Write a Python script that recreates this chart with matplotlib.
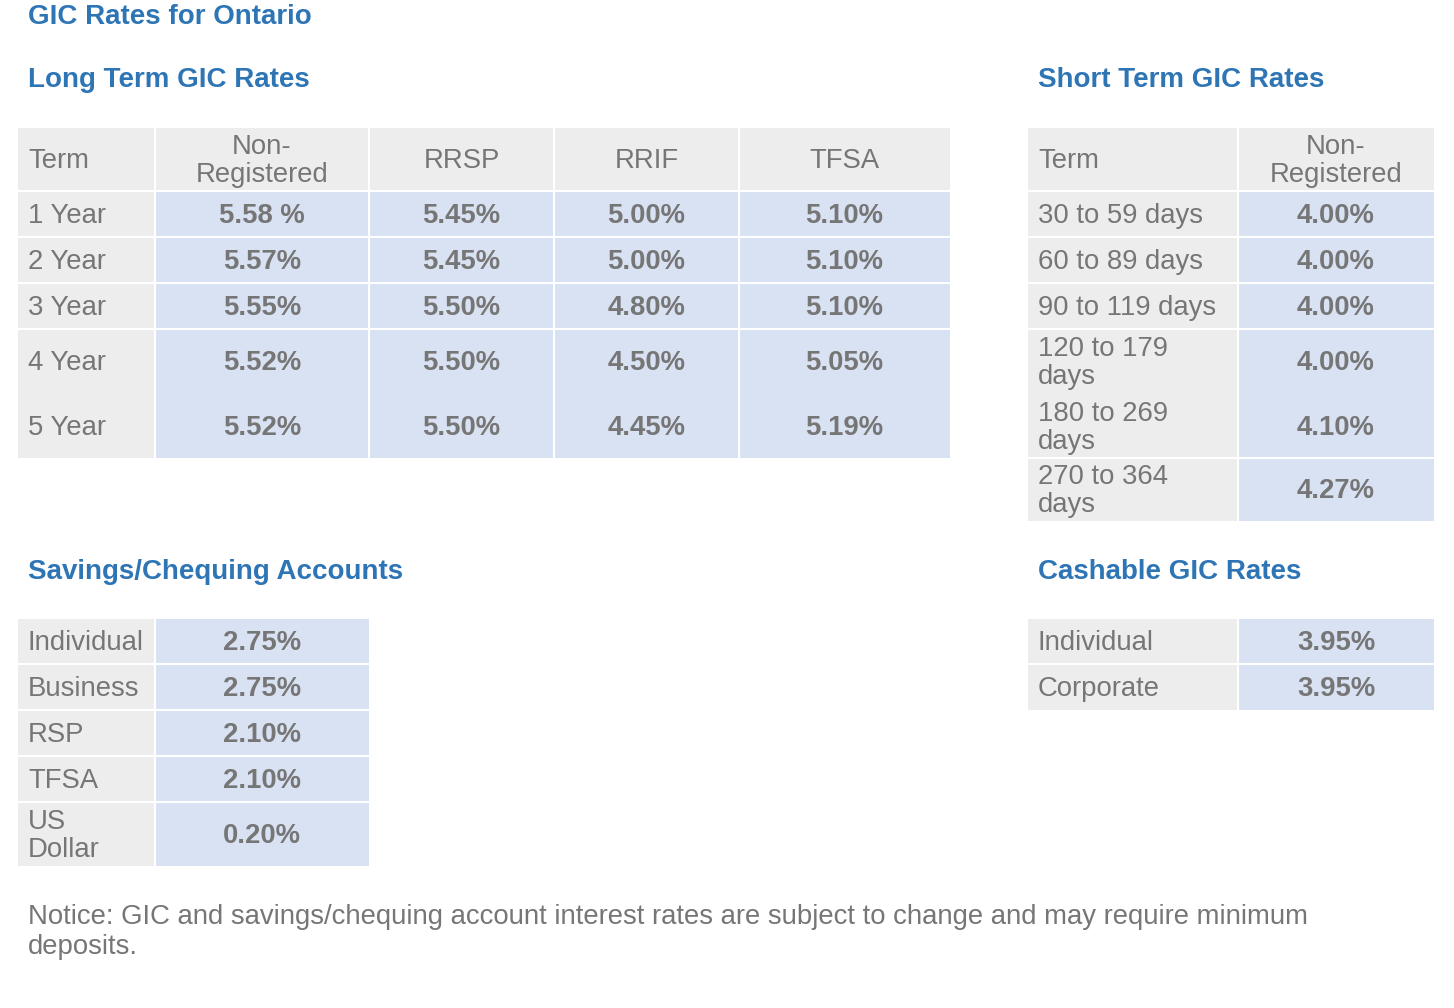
import matplotlib
matplotlib.use("Agg")
import matplotlib.pyplot as plt
from matplotlib.patches import Rectangle

plt.rcParams['font.family'] = ['Liberation Sans', 'DejaVu Sans']

long_cols = ["Term", "Non-\nRegistered", "RRSP", "RRIF", "TFSA"]
long_terms = ["1 Year", "2 Year", "3 Year", "4 Year", "5 Year"]
long_nonreg = ["5.58 %", "5.57%", "5.55%", "5.52%", "5.52%"]
long_rrsp = ["5.45%", "5.45%", "5.50%", "5.50%", "5.50%"]
long_rrif = ["5.00%", "5.00%", "4.80%", "4.50%", "4.45%"]
long_tfsa = ["5.10%", "5.10%", "5.10%", "5.05%", "5.19%"]

short_cols = ["Term", "Non-\nRegistered"]
short_terms = ["30 to 59 days", "60 to 89 days", "90 to 119 days",
               "120 to 179\ndays", "180 to 269\ndays", "270 to 364\ndays"]
short_rates = ["4.00%", "4.00%", "4.00%", "4.00%", "4.10%", "4.27%"]

sav_types = ["Individual", "Business", "RSP", "TFSA", "US\nDollar"]
sav_rates = ["2.75%", "2.75%", "2.10%", "2.10%", "0.20%"]

cash_types = ["Individual", "Corporate"]
cash_rates = ["3.95%", "3.95%"]

GRAY = "#ededed"
BLUE = "#d9e2f3"
TXT = "#767676"
TITLE = "#2e75b6"
FS = 19.8
TFS = 20
LS = 1.1

fig = plt.figure(figsize=(14.54, 10.08), dpi=100)
ax = fig.add_axes([0, 0, 1, 1])
ax.set_xlim(0, 1454)
ax.set_ylim(1008, 0)
ax.axis("off")


def draw_table(xs, ys, header, rows, no_line=()):
    r0 = 0
    if header is not None:
        for j, h in enumerate(header):
            ax.add_patch(Rectangle((xs[j], ys[0]), xs[j+1]-xs[j], ys[1]-ys[0], fc=GRAY, ec="none"))
            cy = (ys[0]+ys[1])/2 + 2
            if j == 0:
                ax.text(xs[j]+10, cy, h, ha="left", va="center", fontsize=FS, color=TXT, linespacing=LS)
            else:
                ax.text((xs[j]+xs[j+1])/2, cy, h, ha="center", va="center", fontsize=FS, color=TXT, linespacing=LS)
        r0 = 1
    for i, row in enumerate(rows):
        y0, y1 = ys[r0+i], ys[r0+i+1]
        cy = (y0+y1)/2 + 2
        for j, val in enumerate(row):
            fc = GRAY if j == 0 else BLUE
            ax.add_patch(Rectangle((xs[j], y0), xs[j+1]-xs[j], y1-y0, fc=fc, ec="none"))
            if j == 0:
                ax.text(xs[j]+10, cy, val, ha="left", va="center", fontsize=FS, color=TXT, linespacing=LS)
            else:
                ax.text((xs[j]+xs[j+1])/2, cy, val, ha="center", va="center", fontsize=FS, color=TXT, fontweight="bold")
    for x in xs[1:-1]:
        ax.plot([x, x], [ys[0], ys[-1]], color="white", lw=1.5)
    for k, y in enumerate(ys[1:-1], start=1):
        if k in no_line:
            continue
        ax.plot([xs[0], xs[-1]], [y, y], color="white", lw=1.5)


for x, y, s in [(28, 17, "GIC Rates for Ontario"), (28, 80, "Long Term GIC Rates"),
                (1038, 80, "Short Term GIC Rates"), (28, 572, "Savings/Chequing Accounts"),
                (1038, 572, "Cashable GIC Rates")]:
    ax.text(x, y, s, fontsize=TFS, color=TITLE, fontweight="bold", va="center")

draw_table([18, 155, 369, 554, 739, 950], [128, 191, 237, 283, 329, 394, 458],
           long_cols, list(zip(long_terms, long_nonreg, long_rrsp, long_rrif, long_tfsa)), no_line=(5,))
draw_table([1028, 1238, 1434], [128, 191, 237, 283, 329, 394, 458, 521],
           short_cols, list(zip(short_terms, short_rates)), no_line=(5,))
draw_table([18, 155, 369], [619, 664, 710, 756, 802, 866],
           None, list(zip(sav_types, sav_rates)))
draw_table([1028, 1238, 1434], [619, 664, 710],
           None, list(zip(cash_types, cash_rates)))

ax.text(28, 932, "Notice: GIC and savings/chequing account interest rates are subject to change and may require minimum\ndeposits.",
        fontsize=19.8, color=TXT, va="center", linespacing=1.15)

fig.savefig("out.png", dpi=100)
